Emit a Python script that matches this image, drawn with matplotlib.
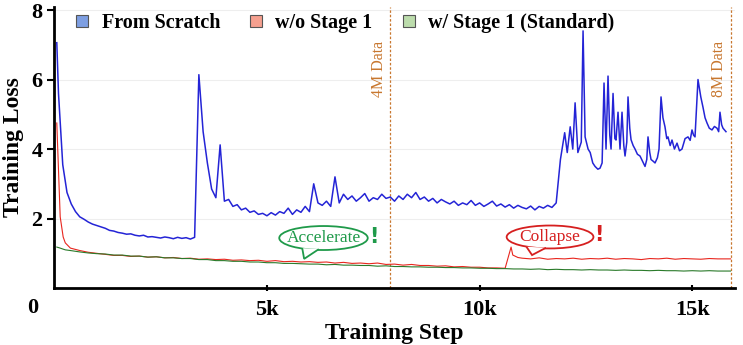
import numpy as np
import matplotlib.pyplot as plt
from matplotlib.lines import Line2D
from matplotlib.patches import Polygon, Ellipse

# ---- data ----
blue_head_steps = [60]
blue_head_loss = [7.06]
blue_mid_steps = np.arange(100, 12000, 100)
blue_mid_loss = [
    5.60, 3.55, 2.75, 2.42, 2.20, 2.05, 1.98, 1.90, 1.84, 1.80,
    1.76, 1.72, 1.66, 1.64, 1.60, 1.58, 1.55, 1.56, 1.52, 1.50,
    1.52, 1.47, 1.48, 1.46, 1.44, 1.47, 1.45, 1.42, 1.46, 1.43,
    1.45, 1.41, 1.46, 6.14, 4.50, 3.60, 2.85, 2.60, 4.12, 2.50,
    2.55, 2.35, 2.40, 2.25, 2.30, 2.18, 2.22, 2.12, 2.15, 2.08,
    2.17, 2.10, 2.20, 2.15, 2.30, 2.12, 2.25, 2.18, 2.35, 2.20,
    3.00, 2.45, 2.38, 2.50, 2.35, 3.20, 2.45, 2.70, 2.55, 2.65,
    2.50, 2.60, 2.72, 2.50, 2.60, 2.55, 2.70, 2.58, 2.62, 2.50,
    2.65, 2.55, 2.70, 2.60, 2.75, 2.55, 2.62, 2.50, 2.58, 2.45,
    2.55, 2.48, 2.42, 2.50, 2.38, 2.45, 2.40, 2.52, 2.38, 2.45,
    2.35, 2.42, 2.50, 2.36, 2.42, 2.33, 2.40, 2.30, 2.38, 2.32,
    2.28, 2.36, 2.25, 2.35, 2.30, 2.38, 2.32, 2.45, 3.70,
]
blue_tail_steps = [
    12000, 12060, 12130, 12190, 12245, 12310, 12390, 12432, 12480, 12550,
    12600, 12660, 12714, 12780, 12831, 12880, 12925, 12972, 13019, 13060,
    13090, 13137, 13180, 13207, 13254, 13301, 13348, 13390, 13419, 13460,
    13489, 13530, 13560, 13610, 13654, 13710, 13771, 13830, 13889, 13930,
    13959, 14000, 14030, 14080, 14124, 14180, 14218, 14265, 14310, 14358,
    14400, 14429, 14480, 14523, 14580, 14641, 14700, 14758, 14830, 14899,
    14950, 14993, 15030, 15064, 15134, 15200, 15252, 15300, 15346, 15400,
    15463, 15520, 15581, 15620, 15651, 15690, 15722, 15792,
]
blue_tail_loss = [
    4.47, 3.90, 4.64, 4.00, 5.33, 3.90, 4.20, 7.40, 4.35, 4.00,
    3.90, 3.60, 3.50, 3.42, 3.45, 3.60, 5.90, 4.00, 6.10, 4.40,
    4.00, 5.60, 4.30, 4.26, 5.06, 4.00, 5.06, 4.10, 3.80, 4.20,
    5.50, 4.60, 4.27, 4.10, 4.00, 3.85, 3.80, 3.65, 3.50, 3.70,
    4.35, 3.90, 3.70, 3.65, 3.60, 3.75, 4.00, 5.50, 4.90, 4.64,
    4.30, 4.35, 4.10, 4.26, 4.00, 4.17, 3.95, 4.00, 4.30, 4.35,
    4.25, 4.55, 4.40, 4.35, 6.00, 5.50, 5.20, 4.90, 4.75, 4.60,
    4.55, 4.65, 4.60, 4.50, 5.06, 4.70, 4.60, 4.50,
]

red_steps = np.r_[[60, 140, 210, 260, 380, 600, 800], np.arange(1000, 10800, 200),
                  [10740, 10780, 10900], np.arange(11000, 16000, 200), [15900]]
red_loss = [
    4.75, 2.05, 1.47, 1.30, 1.15, 1.08, 1.03,
    1.00, 0.97, 0.94, 0.94, 0.91, 0.92, 0.89, 0.90, 0.87,
    0.88, 0.85, 0.86, 0.83, 0.84, 0.82, 0.83, 0.80, 0.81, 0.79,
    0.80, 0.77, 0.79, 0.76, 0.77, 0.75, 0.76, 0.74, 0.75, 0.72,
    0.74, 0.71, 0.72, 0.70, 0.72, 0.68, 0.69, 0.66, 0.68, 0.65,
    0.65, 0.63, 0.64, 0.61, 0.62, 0.60, 0.60, 0.58, 0.58, 0.57,
    1.18, 0.95, 0.88,
    0.86, 0.84, 0.87, 0.83, 0.85, 0.84, 0.86, 0.83, 0.85, 0.84,
    0.86, 0.83, 0.85, 0.84, 0.82, 0.85, 0.84, 0.86, 0.83, 0.85,
    0.84, 0.83, 0.85, 0.84, 0.84, 0.84,
]

green_steps = np.r_[[60, 140, 210, 260, 380, 600, 800], np.arange(1000, 16000, 200), [15900]]
green_loss = [
    1.18, 1.15, 1.12, 1.10, 1.08, 1.04, 1.01,
    0.99, 0.98, 0.95, 0.95, 0.92, 0.92, 0.89, 0.90, 0.87, 0.87,
    0.85, 0.85, 0.82, 0.82, 0.79, 0.79, 0.77, 0.77, 0.75, 0.75,
    0.73, 0.73, 0.71, 0.71, 0.70, 0.69, 0.69, 0.67, 0.68, 0.66,
    0.66, 0.65, 0.65, 0.63, 0.64, 0.62, 0.62, 0.61, 0.61, 0.60,
    0.60, 0.59, 0.59, 0.58, 0.58, 0.57, 0.57, 0.56, 0.56, 0.55,
    0.55, 0.54, 0.55, 0.53, 0.54, 0.53, 0.53, 0.52, 0.53, 0.52,
    0.52, 0.51, 0.52, 0.51, 0.51, 0.50, 0.51, 0.50, 0.50, 0.49,
    0.50, 0.49, 0.50, 0.49, 0.49, 0.49,
]

data_marks = [7900, 15900]
data_labels = ["4M Data", "8M Data"]
series_names = ["From Scratch", "w/o Stage 1", "w/ Stage 1 (Standard)"]

blue_steps = np.r_[blue_head_steps, blue_mid_steps, blue_tail_steps]
blue_loss = np.r_[blue_head_loss, blue_mid_loss, blue_tail_loss]
assert len(blue_steps) == len(blue_loss)
assert len(red_steps) == len(red_loss), (len(red_steps), len(red_loss))
assert len(green_steps) == len(green_loss), (len(green_steps), len(green_loss))

# ---- style ----
plt.rcParams['font.family'] = ['Liberation Serif', 'DejaVu Serif']
plt.rcParams['font.weight'] = 'bold'

fig = plt.figure(figsize=(7.43, 3.45), dpi=100)
ax = fig.add_axes([0.073, 0.165, 0.916, 0.816])

ax.plot(red_steps, red_loss, color='#e8261e', lw=0.8, zorder=3)
ax.plot(green_steps, green_loss, color='#2a7a2a', lw=0.8, zorder=3)
ax.plot(blue_steps, blue_loss, color='#2424d6', lw=1.1, zorder=4)

orange = '#c8772f'
for s, lab in zip(data_marks, data_labels):
    ax.axvline(s, color=orange, lw=0.9, ls=(0, (2, 1.5)), zorder=2)
    ax.text(s - 270, 6.3, lab, rotation=90, color=orange, fontsize=11.5,
            fontweight='normal', ha='center', va='center')

ax.set_xlim(0, 16000)
ax.set_ylim(0, 8.1)
ax.set_xticks([5000, 10000, 15000])
ax.set_xticklabels(['5k', '10k', '15k'])
ax.set_yticks([2, 4, 6, 8])
ax.tick_params(axis='x', direction='inout', length=5, width=1.5, labelsize=16, pad=6)
ax.tick_params(axis='y', direction='out', length=5, width=1.5, labelsize=16)
ax.text(-0.031, -0.071, '0', transform=ax.transAxes, fontsize=16,
        ha='center', va='center')
ax.grid(axis='y', color='#eeeeee', lw=0.8)
ax.set_axisbelow(True)
for sp in ['top', 'right']:
    ax.spines[sp].set_visible(False)
for sp in ['left', 'bottom']:
    ax.spines[sp].set_linewidth(2)

ax.set_xlabel('Training Step', fontsize=17, fontweight='bold', labelpad=2)
ax.set_ylabel('Training Loss', fontsize=17, fontweight='bold', labelpad=5)

handles = [Line2D([], [], lw=0, marker='s', markersize=8, markerfacecolor=c,
                  markeredgecolor='#555555', markeredgewidth=0.8)
           for c in ['#7e9fe2', '#f5a08f', '#bcdcac']]
ax.legend(handles, series_names, loc='upper left', bbox_to_anchor=(0.0, 1.04),
          ncol=3, frameon=False, fontsize=14.5, handletextpad=0.45,
          columnspacing=1.3, handlelength=1.0)


def bubble(x, y, w, h, text, color, tail):
    ax.add_patch(Ellipse((x, y), w, h, fc='white', ec=color, lw=1.3, zorder=6))
    ax.add_patch(Polygon(tail, closed=False, fc='white', ec=color, lw=1.3, zorder=7))
    ax.text(x, y, text, color=color, fontsize=12.5, fontweight='normal',
            ha='center', va='center', zorder=8)


bubble(6330, 1.44, 2080, 0.69, 'Accelerate', '#1f9a4a',
       [(5830, 1.15), (5875, 0.84), (6220, 1.12)])
ax.text(7520, 1.46, '!', color='#1f9a4a', fontsize=15, family='DejaVu Sans',
        fontweight='bold', ha='center', va='center')
bubble(11656, 1.47, 2040, 0.66, 'Collapse', '#d61f1f',
       [(11100, 1.19), (11233, 0.95), (11560, 1.16)])
ax.text(12808, 1.53, '!', color='#d61f1f', fontsize=15, family='DejaVu Sans',
        fontweight='bold', ha='center', va='center')

fig.savefig('out.png', dpi=100)
